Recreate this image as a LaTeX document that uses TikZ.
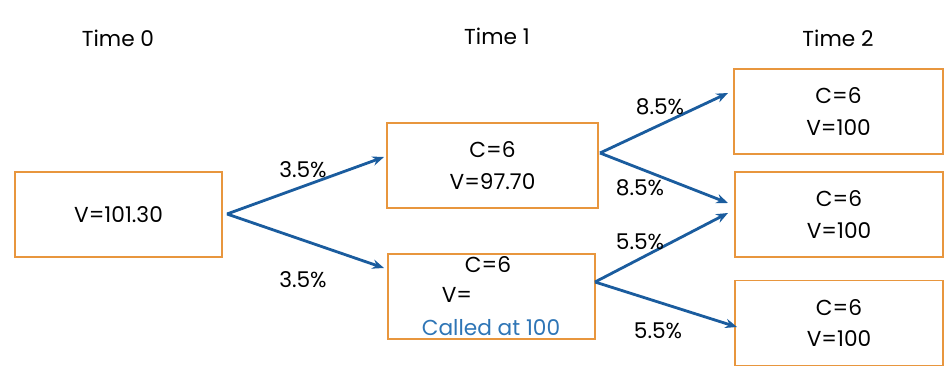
\documentclass[tikz,border=0pt]{standalone}
\usepackage{fontspec}
\setmainfont{Poppins}
\usetikzlibrary{arrows.meta}
\definecolor{boxorange}{RGB}{232,150,62}
\definecolor{arrowblue}{RGB}{26,92,158}
\definecolor{callblue}{RGB}{46,117,182}
\begin{document}
\begin{tikzpicture}[x=0.03cm,y=-0.03cm,
  every node/.style={font=\fontsize{18.5}{27}\selectfont},
  valbox/.style={draw=boxorange, line width=1.2pt, minimum height=2.55cm, align=center, inner sep=0pt},
  branch/.style={draw=arrowblue, line width=2.4pt, -{Stealth[length=10pt,width=8pt]}}]
\useasboundingbox (0,0) rectangle (944,368);
\node (t0) at (118,38){Time 0};
\node (t1) at (497,36){Time 1};
\node (t2) at (838,38){Time 2};
\node[valbox, minimum width=6.21cm] (b0) at (118.5,214.5){V=101.30};
\node[valbox, minimum width=6.33cm] (b1a) at (492.5,165.5){C=6\\V=97.70};
\node[valbox, minimum width=6.21cm] (b1b) at (491.5,296.5){};
\node (c1b) at (488,265){C=6};
\node (v1b) at (457,295){V=};
\node[text=callblue] (call) at (491,328){Called at 100};
\node[valbox, minimum width=6.27cm] (b2a) at (838.5,111.5){C=6\\V=100};
\node[valbox, minimum width=6.24cm] (b2b) at (839,214.5){C=6\\V=100};
\node[valbox, minimum width=6.24cm] (b2c) at (839,323){C=6\\V=100};
\coordinate (s0) at (227,214);
\coordinate (s1a) at (600,153);
\coordinate (s1b) at (595,282);
\coordinate (e1a) at (384,157);
\coordinate (e1b) at (384,268);
\coordinate (e2a) at (728,93);
\coordinate (e2b) at (728,203);
\coordinate (e2c) at (728,213);
\coordinate (e2d) at (737,327);
\draw[branch](s0) -- (e1a);
\draw[branch](s0) -- (e1b);
\draw[branch](s1a) -- (e2a);
\draw[branch](s1a) -- (e2b);
\draw[branch](s1b) -- (e2c);
\draw[branch](s1b) -- (e2d);
\node (r1) at (303,170){3.5\%};
\node (r2) at (303,280){3.5\%};
\node (r3) at (660,107){8.5\%};
\node (r4) at (640,188){8.5\%};
\node (r5) at (640,242){5.5\%};
\node (r6) at (658,331){5.5\%};
\end{tikzpicture}
\end{document}
